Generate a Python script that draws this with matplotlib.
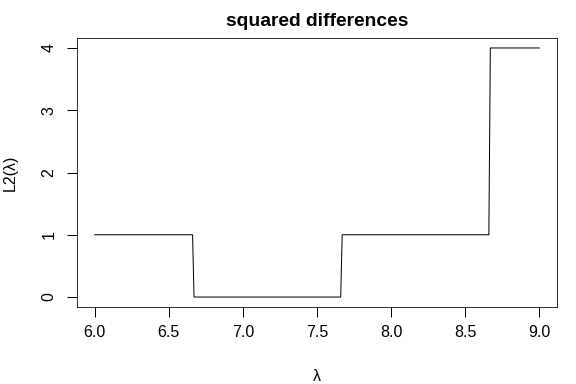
import matplotlib
matplotlib.use("Agg")
import matplotlib.pyplot as plt

plt.rcParams['font.family'] = ['Liberation Sans', 'DejaVu Sans']

# step function: corners of the curve
lam = [6.0, 6.66, 6.67, 7.66, 7.67, 8.66, 8.67, 9.0]
L2 = [1, 1, 0, 0, 1, 1, 4, 4]
xticks = [6.0, 6.5, 7.0, 7.5, 8.0, 8.5, 9.0]
yticks = [0, 1, 2, 3, 4]

fig = plt.figure(figsize=(8, 384 / 72), dpi=72)
ax = fig.add_axes([77 / 576, 1 - 307 / 384, 480 / 576, 269 / 384])

ax.plot(lam, L2, color="black", linewidth=1)

ax.set_xlim(6.0 - 0.12, 9.0 + 0.12)
ax.set_ylim(0 - 0.16, 4 + 0.16)
ax.set_xticks(xticks)
ax.set_xticklabels([f"{t:.1f}" for t in xticks])
ax.set_yticks(yticks)
ax.set_yticklabels([str(t) for t in yticks], rotation=90, va="center")
ax.tick_params(direction="out", length=9.6, width=1, labelsize=16, pad=8, colors="black")
ax.tick_params(axis="y", pad=11)

ax.set_title("squared differences", fontsize=19.2, fontweight="bold", pad=12)
ax.set_xlabel("λ", fontsize=16, labelpad=29)
ax.set_ylabel("L2(λ)", fontsize=16, labelpad=24)

fig.savefig("out.png", dpi=72)
plt.close(fig)
